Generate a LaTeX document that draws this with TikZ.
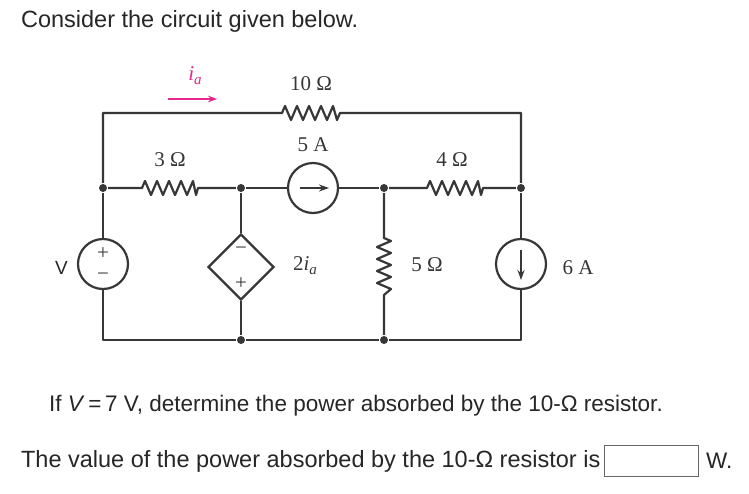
\documentclass[tikz,border=0pt]{standalone}
\usepackage{fontspec}
\setmainfont{Liberation Sans}
\newfontfamily\ser{Liberation Serif}
\usetikzlibrary{shapes.geometric,arrows.meta}
\definecolor{pink}{RGB}{230,40,140}
\definecolor{wire}{RGB}{55,55,55}
\newcommand{\myia}{\textit{i}\raisebox{-4pt}{\fontsize{15}{15}\selectfont\textit{a}}}
\begin{document}
\begin{tikzpicture}[x=1pt,y=-1pt,line width=2.2pt,
  w/.style={draw=wire,line join=round},
  dot/.style={circle,fill=wire,inner sep=0pt,minimum size=8pt},
  src/.style={circle,draw=wire,minimum size=50pt,inner sep=0pt},
  lab/.style={font=\ser\fontsize{21}{22}\selectfont,text=wire},
  sg/.style={font=\ser\fontsize{21}{21}\selectfont,text=wire,inner sep=0pt},
  txt/.style={font=\fontsize{22.5}{24}\selectfont,anchor=west,inner sep=0pt,text=black!85}]
\useasboundingbox (0,0) rectangle (749,493);
\fill[white] (0,0) rectangle (749,493);
\coordinate (TL) at (103,113); \coordinate (TR) at (521,113);
\coordinate (BL) at (103,340); \coordinate (BR) at (521,340);
\node[dot] (A) at (103,188) {}; \node[dot] (B) at (241,188) {};
\node[dot] (C) at (384,188) {}; \node[dot] (D) at (521,188) {};
\node[dot] (E) at (241,340) {}; \node[dot] (F) at (384,340) {};
\node[src] (V) at (103,264) {};
\node[src] (I5) at (313,188) {};
\node[src] (I6) at (521,264) {};
\node[diamond,draw=wire,minimum width=66pt,minimum height=66pt,inner sep=0pt] (S) at (241,267) {};
% top wire with 10 ohm
\draw[w] (A) -- (TL) -- (282,113) -- (285,106) -- (291,120) -- (297,106) -- (303,120) -- (309,106) -- (315,120) -- (321,106) -- (327,120) -- (333,106) -- (337,120) -- (340,113) -- (TR) -- (D);
% 3 ohm
\draw[w] (A) -- (142,188) -- (145,181) -- (151,195) -- (157,181) -- (163,195) -- (169,181) -- (175,195) -- (181,181) -- (187,195) -- (193,181) -- (196,195) -- (198,188) -- (B);
\draw[w] (B) -- (I5) -- (C);
% 4 ohm
\draw[w] (C) -- (427,188) -- (430,181) -- (436,195) -- (442,181) -- (448,195) -- (454,181) -- (460,195) -- (466,181) -- (472,195) -- (478,181) -- (481,195) -- (483,188) -- (D);
% 5 ohm vertical
\draw[w] (C) -- (384,238) -- (391,241) -- (377,247) -- (391,253) -- (377,259) -- (391,265) -- (377,271) -- (391,277) -- (377,283) -- (391,289) -- (384,295) -- (F);
\draw[w] (A) -- (V) -- (BL) -- (E) -- (F) -- (BR) -- (I6) -- (D);
\draw[w] (B) -- (S) -- (E);
% source marks
\draw[wire,line width=1.6pt,-{Stealth[length=10pt,width=7pt]}] (300,188) -- (329,188);
\draw[wire,line width=1.6pt,-{Stealth[length=10pt,width=7pt]}] (521,250) -- (521,280);
\node[sg] at (103,254) {+};
\node[sg] at (103,277) {−};
\node[sg] at (241,251) {−};
\node[sg] at (241,284) {+};
% labels
\node[lab] (l10) at (311,84) {10 Ω};
\node[lab] (l5A) at (313,145) {5 A};
\node[lab] (l3) at (170,160) {3 Ω};
\node[lab] (l4) at (452,160) {4 Ω};
\node[lab] (l2ia) at (305,266) {2\myia};
\node[lab] (l5) at (427,265) {5 Ω};
\node[lab] (l6) at (578,268) {6 A};
\node[txt,font=\fontsize{19}{20}\selectfont] (lV) at (54,268) {V};
\node[lab,text=pink] (lia) at (195,76) {\myia};
\coordinate (ia1) at (168,99); \coordinate (ia2) at (217,99);
\draw[pink,line width=1.5pt,-{Stealth[length=9pt]}] (ia1) -- (ia2);
% texts
\node[txt,font=\fontsize{23.5}{24}\selectfont] (t1) at (20,21) {Consider the circuit given below.};
\node[txt] (t2) at (48,406) {If \textit{V}\,=\,7 V, determine the power absorbed by the 10-Ω resistor.};
\node[txt,font=\fontsize{23.5}{24}\selectfont] (t3) at (20,461) {The value of the power absorbed by the 10-Ω resistor is};
\node[draw=black!60,line width=1pt,minimum width=94pt,minimum height=31pt,inner sep=0pt] (box) at (651,461) {};
\node[txt] (tw) at (705,461) {W.};
\end{tikzpicture}
\end{document}
